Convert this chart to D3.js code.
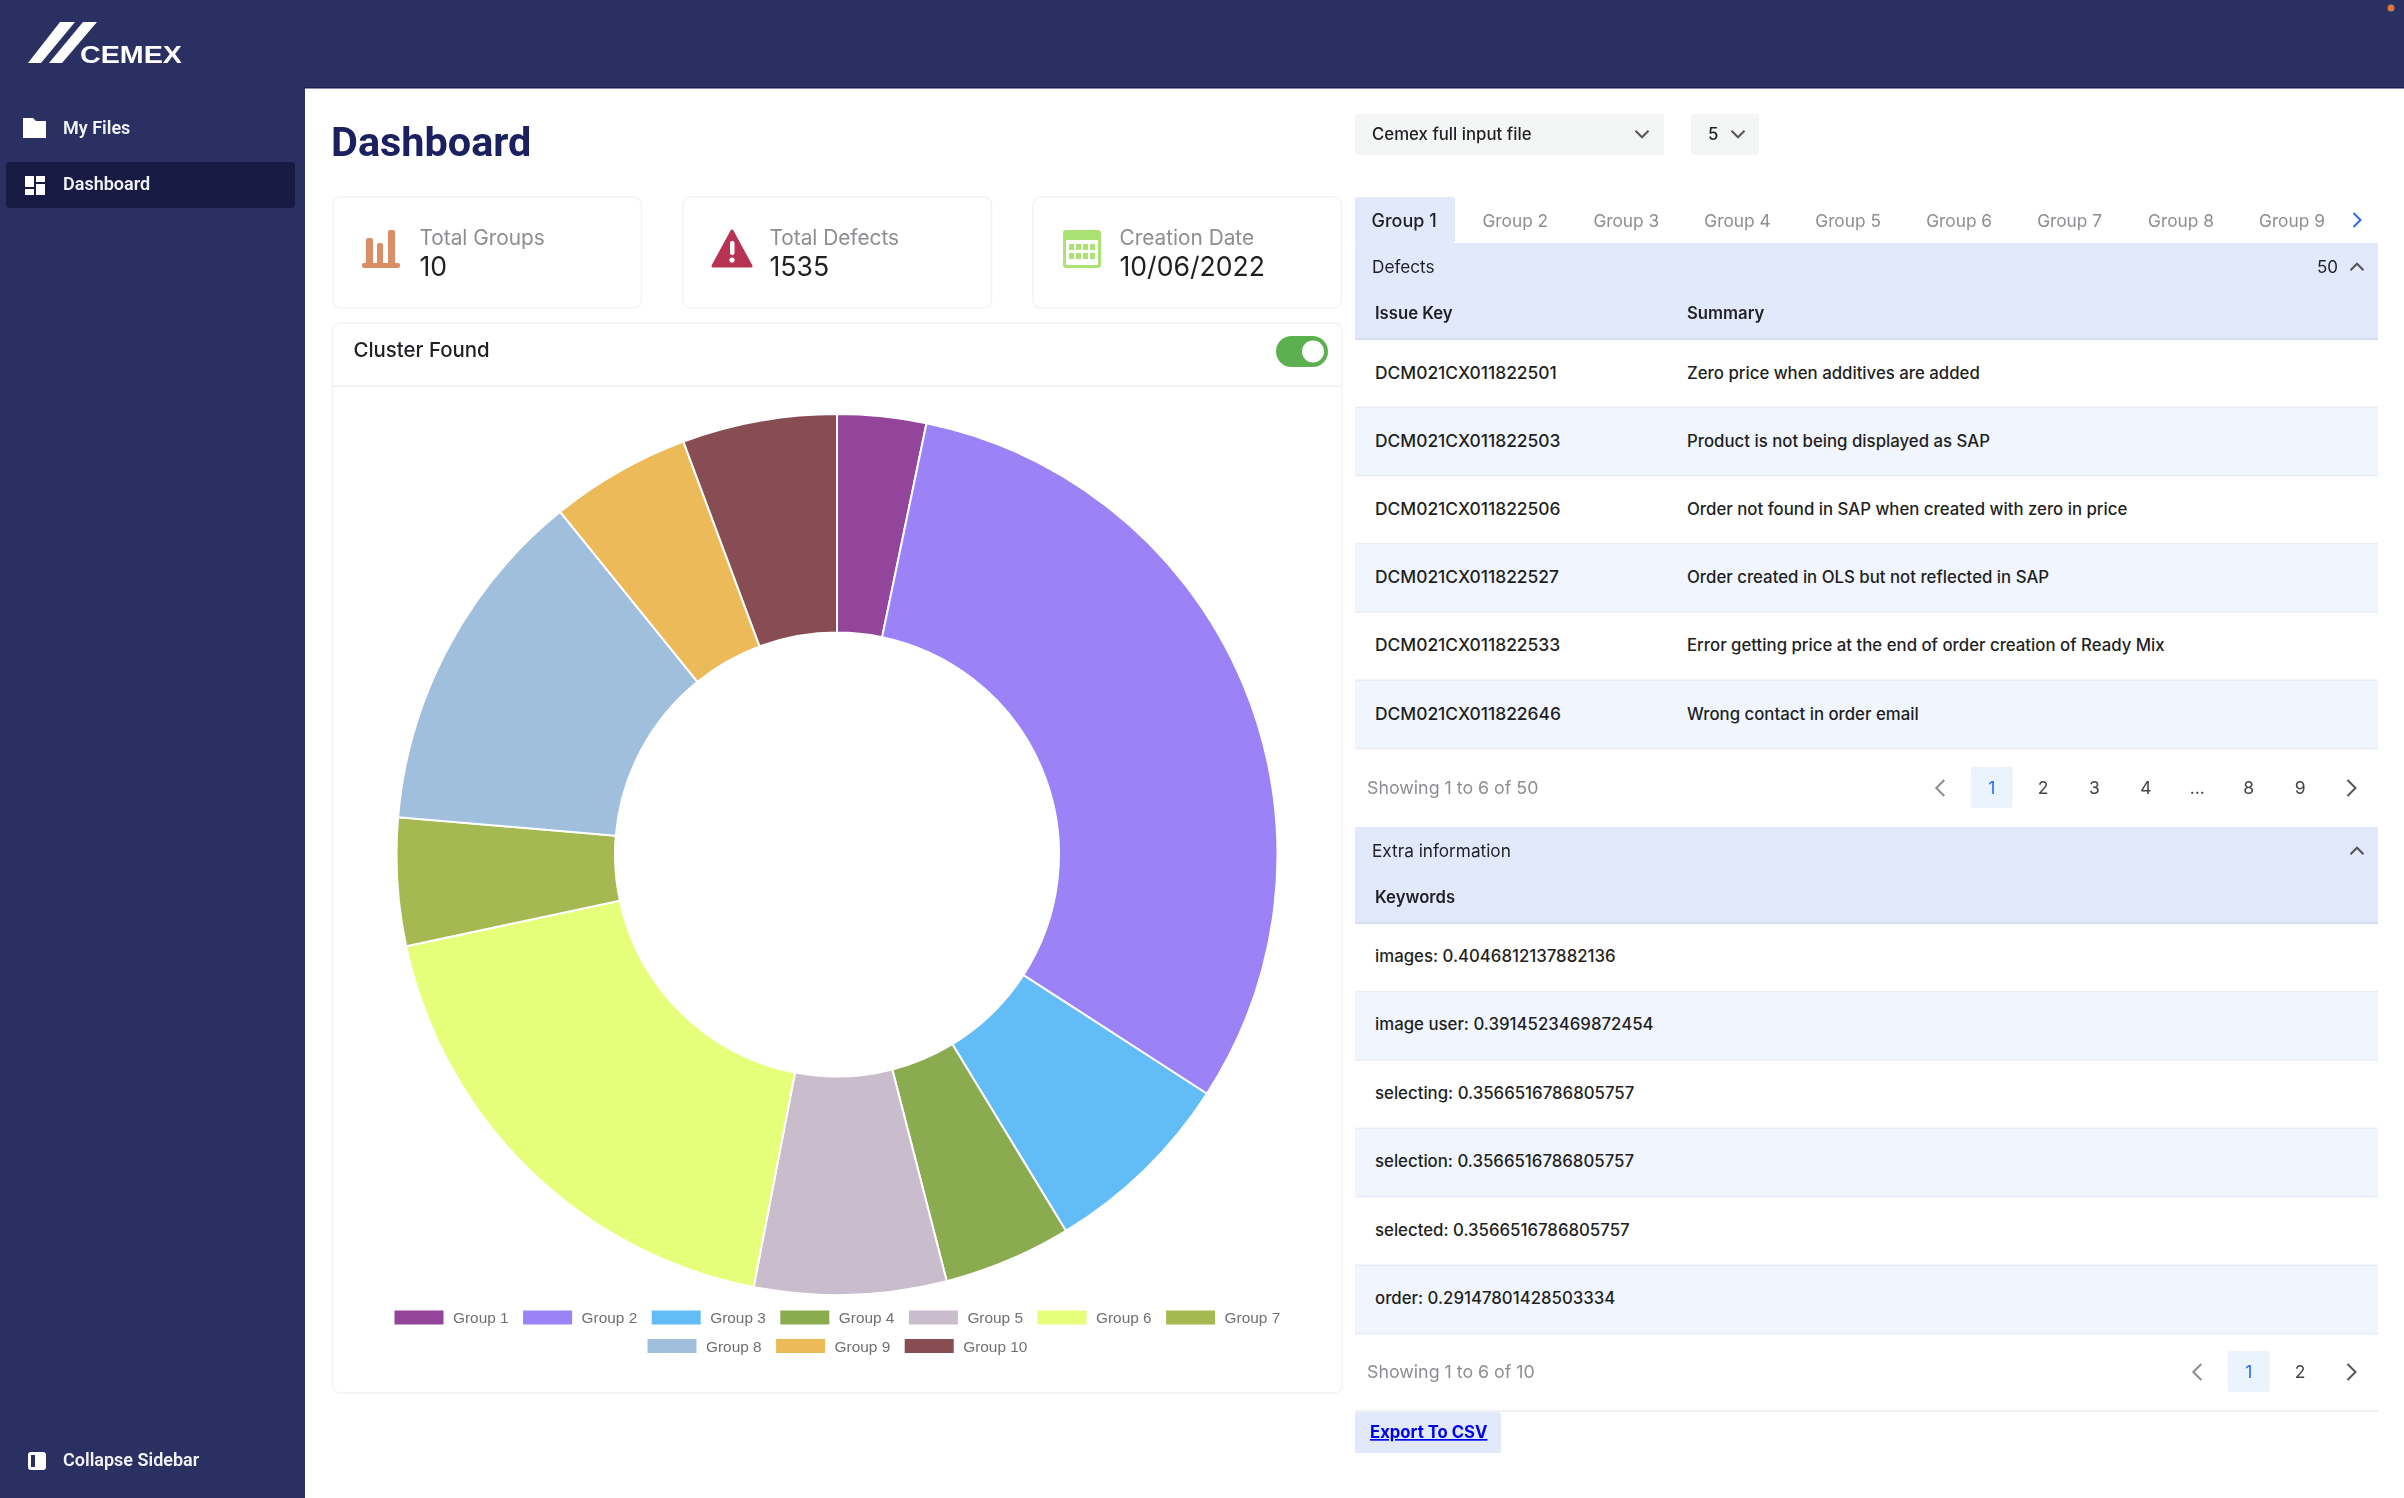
<!DOCTYPE html>
<html>
<head>
<meta charset="utf-8">
<script src="https://cdn.jsdelivr.net/npm/d3@7"></script>
<style>
  html, body { margin: 0; padding: 0; background: #fff; overflow: hidden; }
  svg { display: block; filter: blur(0.6px); }
  text { font-family: Inter, sans-serif; }
</style>
</head>
<body>
<svg width="2404" height="1498"></svg>
<script>
// chart data
const groups = ['Group 1', 'Group 2', 'Group 3', 'Group 4', 'Group 5', 'Group 6', 'Group 7', 'Group 8', 'Group 9', 'Group 10']
const defects = [50, 474, 110, 72, 108, 286, 72, 197, 79, 87]
const groupColors = ['#92459a', '#9b82f6', '#62bcf5', '#8aab4f', '#c9bccd', '#e6fe7a', '#a6b851', '#a0bfdc', '#ecba58', '#874d52']

// page content
const kpiLabels = ['Total Groups', 'Total Defects', 'Creation Date']
const kpiValues = ['10', '1535', '10/06/2022']
const issueKeys = ['DCM021CX011822501', 'DCM021CX011822503', 'DCM021CX011822506', 'DCM021CX011822527', 'DCM021CX011822533', 'DCM021CX011822646']
const summaries = [
  'Zero price when additives are added',
  'Product is not being displayed as SAP',
  'Order not found in SAP when created with zero in price',
  'Order created in OLS but not reflected in SAP',
  'Error getting price at the end of order creation of Ready Mix',
  'Wrong contact in order email'
]
const keywords = [
  'images: 0.4046812137882136',
  'image user: 0.3914523469872454',
  'selecting: 0.3566516786805757',
  'selection: 0.3566516786805757',
  'selected: 0.3566516786805757',
  'order: 0.29147801428503334'
]
const defectPages = ['1', '2', '3', '4', '...', '8', '9']
const keywordPages = ['1', '2']

const svg = d3.select('svg')
const navy = '#2b3062'
const paleBlue = '#e2e9fb'
const rowBlue = '#f0f5fe'
const dark = '#1f1f24'
const grey = '#8d8d92'

function box (parent, x, y, w, h, fill, rx) {
  return parent.append('rect')
    .attr('x', x).attr('y', y)
    .attr('width', w).attr('height', h)
    .attr('rx', rx || 0)
    .attr('fill', fill)
}

function label (parent, x, y, str, size, color, weight) {
  return parent.append('text')
    .attr('x', x).attr('y', y)
    .attr('font-size', size)
    .attr('font-weight', weight || 400)
    .attr('fill', color)
    .text(str)
}

function chevron (parent, cx, cy, dir, size, color, width) {
  const s = size
  const d = {
    down: `M${cx - s},${cy - s / 2}L${cx},${cy + s / 2}L${cx + s},${cy - s / 2}`,
    up: `M${cx - s},${cy + s / 2}L${cx},${cy - s / 2}L${cx + s},${cy + s / 2}`,
    left: `M${cx + s / 2},${cy - s}L${cx - s / 2},${cy}L${cx + s / 2},${cy + s}`,
    right: `M${cx - s / 2},${cy - s}L${cx + s / 2},${cy}L${cx - s / 2},${cy + s}`
  }[dir]
  return parent.append('path')
    .attr('d', d)
    .attr('fill', 'none')
    .attr('stroke', color)
    .attr('stroke-width', width || 2)
}

// header and sidebar
box(svg, 0, 0, 2404, 88, navy)
box(svg, 305, 87, 2099, 1.5, '#1b1f5c')
box(svg, 0, 88, 305, 1410, navy)
svg.append('circle').attr('cx', 2391).attr('cy', 8).attr('r', 3.5).attr('fill', '#d9793f')

const logo = svg.append('g').attr('fill', '#fff')
logo.append('path').attr('d', 'M60,22L75,22L41,63L28,63Z')
logo.append('path').attr('d', 'M83,22L97,22L62,63L49,63Z')
label(logo, 80, 63, 'CEMEX', 23, '#fff', 700)
  .attr('textLength', 102)
  .attr('lengthAdjust', 'spacingAndGlyphs')
  .style('font-family', 'Liberation Sans')

const sideFont = 'Roboto'
label(svg, 63, 134, 'My Files', 18, '#f2f3f8', 600).style('font-family', sideFont)
box(svg, 6, 162, 289, 46, '#171a43', 4)
label(svg, 63, 190, 'Dashboard', 18, '#f2f3f8', 600).style('font-family', sideFont)
label(svg, 63, 1466, 'Collapse Sidebar', 18, '#f2f3f8', 600).style('font-family', sideFont)

// sidebar icons
svg.append('path').attr('fill', '#fff').attr('d', 'M23,118h10l3,3h10v17h-23Z')
box(svg, 25, 176, 9, 11, '#fff')
box(svg, 36, 176, 9, 6, '#fff')
box(svg, 36, 184, 9, 11, '#fff')
box(svg, 25, 189, 9, 6, '#fff')
box(svg, 28, 1452, 18, 18, '#fff', 3)
box(svg, 31, 1455, 4, 12, navy)

// title
label(svg, 331, 156, 'Dashboard', 41.4, '#1b2060', 700).style('font-family', 'Roboto')

// kpi cards
const cardX = [333, 683, 1033]
const kpi = svg.selectAll('.kpi')
  .data(kpiLabels)
  .join('g')
  .attr('class', 'kpi')
  .attr('transform', (d, i) => `translate(${cardX[i]},197)`)

kpi.append('rect')
  .attr('width', 308.5).attr('height', 111).attr('rx', 8)
  .attr('fill', '#fff').attr('stroke', '#f3f3f6').attr('stroke-width', 1.5)
kpi.append('text')
  .attr('x', 86.5).attr('y', 48)
  .attr('font-size', 20.8).attr('fill', grey)
  .text(d => d)
kpi.append('text')
  .attr('x', 86.5).attr('y', 79)
  .attr('font-size', 26.6).attr('fill', dark)
  .text((d, i) => kpiValues[i])

// kpi icons
const barIcon = svg.append('g').attr('fill', '#d98e66')
box(barIcon, 362, 263, 38, 5, '#d98e66', 2)
box(barIcon, 366, 238, 7, 27, '#d98e66', 2)
box(barIcon, 377, 243, 6, 22, '#d98e66', 2)
box(barIcon, 388, 230, 7, 35, '#d98e66', 2)
svg.append('path').attr('fill', '#b83253').attr('stroke', '#b83253').attr('stroke-width', 3).attr('stroke-linejoin', 'round')
  .attr('d', 'M732,231L751,266L713,266Z')
box(svg, 730, 241, 4.5, 14, '#fff', 2)
svg.append('circle').attr('cx', 732).attr('cy', 260).attr('r', 2.6).attr('fill', '#fff')
box(svg, 1063, 230, 38, 38, '#abe274', 3)
box(svg, 1066, 240, 32, 25, '#fff', 1)
svg.selectAll('.cal')
  .data(d3.cross([0, 1, 2, 3], [0, 1]))
  .join('rect')
  .attr('class', 'cal')
  .attr('x', d => 1069 + d[0] * 7)
  .attr('y', d => 244 + d[1] * 9)
  .attr('width', 5).attr('height', 6)
  .attr('fill', '#abe274')

// chart card
box(svg, 332.5, 323, 1009.5, 1070, '#fff', 8).attr('stroke', '#f3f3f6').attr('stroke-width', 1.5)
box(svg, 333, 385, 1009, 2, '#f3f3f6')
label(svg, 353.5, 357, 'Cluster Found', 20.4, dark, 500)
box(svg, 1276, 336, 52, 31, '#5cb04f', 15.5)
svg.append('circle').attr('cx', 1313).attr('cy', 351.5).attr('r', 11).attr('fill', '#fff')

// donut
const pie = d3.pie().sort(null)
const arc = d3.arc().innerRadius(222).outerRadius(440.5)
svg.append('g')
  .attr('transform', 'translate(837,854.5)')
  .selectAll('path')
  .data(pie(defects))
  .join('path')
  .attr('d', arc)
  .attr('fill', (d, i) => groupColors[i])
  .attr('stroke', '#fff')
  .attr('stroke-width', 2)

// legend
const legendRows = [
  { items: groups.slice(0, 7), x0: 394.5, y: 1310.5 },
  { items: groups.slice(7), x0: 647.5, y: 1339 }
]
legendRows.forEach(row => {
  const x = d3.scaleBand()
    .domain(row.items)
    .range([row.x0, row.x0 + 128.6 * row.items.length])
  const item = svg.append('g').selectAll('g')
    .data(row.items)
    .join('g')
    .attr('transform', d => `translate(${x(d)},${row.y})`)
  item.append('rect')
    .attr('width', 49).attr('height', 14)
    .attr('fill', d => groupColors[groups.indexOf(d)])
  item.append('text')
    .attr('x', 58.5).attr('y', 12.5)
    .attr('font-size', 15.4)
    .attr('fill', '#707074')
    .style('font-family', 'Liberation Sans')
    .text(d => d)
})

// selects
box(svg, 1355, 114, 309, 41, '#f4f5f5', 3)
label(svg, 1372, 140, 'Cemex full input file', 16.8, dark, 500)
chevron(svg, 1642, 134, 'down', 6.5, '#555')
box(svg, 1691, 114, 68, 41, '#f4f5f5', 3)
label(svg, 1708, 140, '5', 16.8, dark, 500)
chevron(svg, 1738, 134, 'down', 6.5, '#555')

// tabs
box(svg, 1355, 197, 100, 46, paleBlue, 3)
const tabX = d3.scaleLinear().domain([0, 8]).range([1371.5, 2259])
svg.append('g').selectAll('text')
  .data(groups.slice(0, 9))
  .join('text')
  .attr('x', (d, i) => tabX(i))
  .attr('y', 226.5)
  .attr('font-size', (d, i) => i === 0 ? 18 : 17.3)
  .attr('font-weight', (d, i) => i === 0 ? 500 : 400)
  .attr('fill', (d, i) => i === 0 ? dark : grey)
  .text(d => d)
chevron(svg, 2357, 220, 'right', 7, '#2d6be5')

// table block with header and striped rows
function tableBlock (top, headerTitle, rowsTop, rowH, rows) {
  box(svg, 1355, top, 1023, rowsTop - top, paleBlue)
  box(svg, 1355, rowsTop - 1, 1023, 2, '#d4dbee')
  label(svg, 1372, top + 29.5, headerTitle, 17.2, dark, 400)
  chevron(svg, 2357, top + 24, 'up', 6.5, '#555')
  const y = d3.scaleBand()
    .domain(d3.range(rows.length))
    .range([rowsTop, rowsTop + rowH * rows.length])
  const row = svg.append('g').selectAll('g')
    .data(rows)
    .join('g')
    .attr('transform', (d, i) => `translate(1355,${y(i)})`)
  row.append('rect')
    .attr('y', 1)
    .attr('width', 1023).attr('height', rowH)
    .attr('fill', (d, i) => i % 2 ? rowBlue : '#fff')
  row.append('rect')
    .attr('y', rowH - 0.5)
    .attr('width', 1023).attr('height', 1.5)
    .attr('fill', '#e8ecf5')
  return row
}

const issueRows = tableBlock(243, 'Defects', 339, 68.2, issueKeys)
issueRows.append('text')
  .attr('x', 20).attr('y', 39.5)
  .attr('font-size', 17.4).attr('font-weight', 500).attr('fill', dark)
  .text(d => d)
issueRows.append('text')
  .attr('x', 332).attr('y', 39.5)
  .attr('font-size', 16.8).attr('font-weight', 500).attr('fill', dark)
  .text((d, i) => summaries[i])
label(svg, 2317, 272.5, '50', 17, dark, 400)
label(svg, 1375, 319, 'Issue Key', 16.7, dark, 600)
label(svg, 1687, 319, 'Summary', 16.7, dark, 600)

const keywordRows = tableBlock(827, 'Extra information', 923, 68.4, keywords)
keywordRows.append('text')
  .attr('x', 20).attr('y', 39)
  .attr('font-size', 16.8).attr('font-weight', 500).attr('fill', dark)
  .text(d => d)
label(svg, 1375, 903, 'Keywords', 16.7, dark, 600)

// pagination
function pager (summary, y, pages, rightX) {
  label(svg, 1367, y + 6, summary, 17.8, grey, 400)
  const x = d3.scalePoint()
    .domain(pages)
    .range([rightX - 51.4 * pages.length, rightX - 51.4])
  box(svg, x(pages[0]) - 21, y - 21, 42, 41, '#ebf3fd', 3)
  svg.append('g').selectAll('text')
    .data(pages)
    .join('text')
    .attr('x', d => x(d))
    .attr('y', y + 6)
    .attr('text-anchor', 'middle')
    .attr('font-size', 17.5)
    .attr('fill', (d, i) => i === 0 ? '#2d6be5' : '#44444a')
    .text(d => d)
  chevron(svg, x(pages[0]) - 51.4, y, 'left', 8, '#8d8d92', 2)
  chevron(svg, rightX, y, 'right', 8, '#55555a', 2)
}
pager('Showing 1 to 6 of 50', 788, defectPages, 2351.5)
pager('Showing 1 to 6 of 10', 1372, keywordPages, 2351.5)

// export
box(svg, 1355, 1410, 1023, 2, '#f1f1f4')
box(svg, 1355, 1412, 146, 41, paleBlue, 3)
label(svg, 1370, 1438, 'Export To CSV', 16.7, '#0000ee', 700)
  .attr('text-decoration', 'underline')
</script>
</body>
</html>
